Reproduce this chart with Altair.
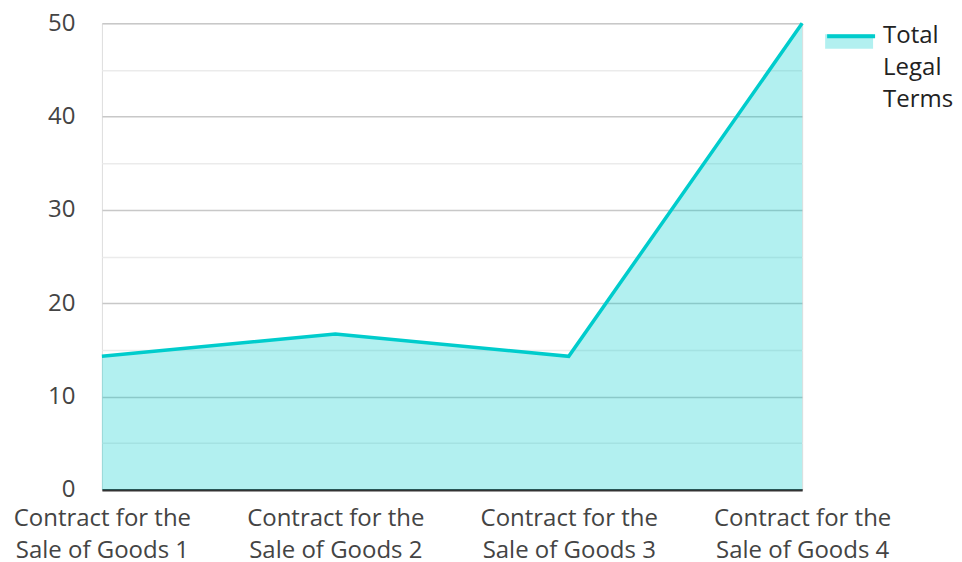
import altair as alt
import pandas as pd

categories = ["Contract for the Sale of Goods 1", "Contract for the Sale of Goods 2",
              "Contract for the Sale of Goods 3", "Contract for the Sale of Goods 4"]
values = [14.3, 16.7, 14.3, 50]
series = "Total Legal Terms"
y_ticks = [0, 5, 10, 15, 20, 25, 30, 35, 40, 45, 50]

df = pd.DataFrame({"cat": categories, "val": values, "series": [series] * len(categories)})

FONT = "Open Sans"
CYAN = "#00cccc"

x = alt.X("cat:N", sort=categories, title=None,
          scale=alt.Scale(type="point", padding=0),
          axis=alt.Axis(labelAngle=0, labelExpr="[slice(datum.label,0,16), slice(datum.label,17)]",
                        labelFontSize=24, labelFont=FONT, labelColor="#444444", labelPadding=17,
                        labelLineHeight=32, ticks=False, grid=False,
                        domainColor="#333333", domainWidth=2.5))
y = alt.Y("val:Q", title=None, scale=alt.Scale(domain=[0, 50], nice=False),
          axis=alt.Axis(values=y_ticks, labelExpr="datum.value % 10 == 0 ? datum.label : ''",
                        labelFontSize=24, labelFont=FONT, labelColor="#444444", labelPadding=27,
                        ticks=False, domain=False, gridWidth=1.5,
                        gridColor={"condition": {"test": "datum.value % 10 == 0", "value": "#c8c8c8"},
                                   "value": "#ebebeb"}))

area = alt.Chart(df).mark_area(opacity=0.3).encode(
    x=x, y=y,
    fill=alt.Fill("series:N", scale=alt.Scale(range=[CYAN]),
                  legend=alt.Legend(title=None, orient="none", legendX=724, legendY=-13,
                                    symbolType="M-1,0L1,0L1,0.6L-1,0.6Z", symbolSize=2304,
                                    symbolOpacity=0.3, symbolStrokeWidth=0,
                                    labelExpr="''"))
)
line = alt.Chart(df).mark_line(strokeWidth=3.5).encode(
    x=x, y=y,
    stroke=alt.Stroke("series:N", scale=alt.Scale(range=[CYAN]),
                      legend=alt.Legend(title=None, orient="none", legendX=724, legendY=-13,
                                        symbolType="stroke", symbolSize=2304, symbolStrokeWidth=4,
                                        labelExpr="split(datum.label, ' ')", labelFont=FONT,
                                        labelFontSize=24, labelColor="#222222",
                                        labelBaseline="middle", labelOffset=6))
)

chart = (area + line).resolve_scale(fill="independent", stroke="independent").properties(
    width=701, height=467,
    padding={"top": 2, "bottom": 0, "left": 5, "right": 0}
).configure_view(stroke=None).configure(style={"guide-label": {"lineHeight": 32}})

chart.save("out.html", embed_options={"renderer": "svg", "actions": False})
